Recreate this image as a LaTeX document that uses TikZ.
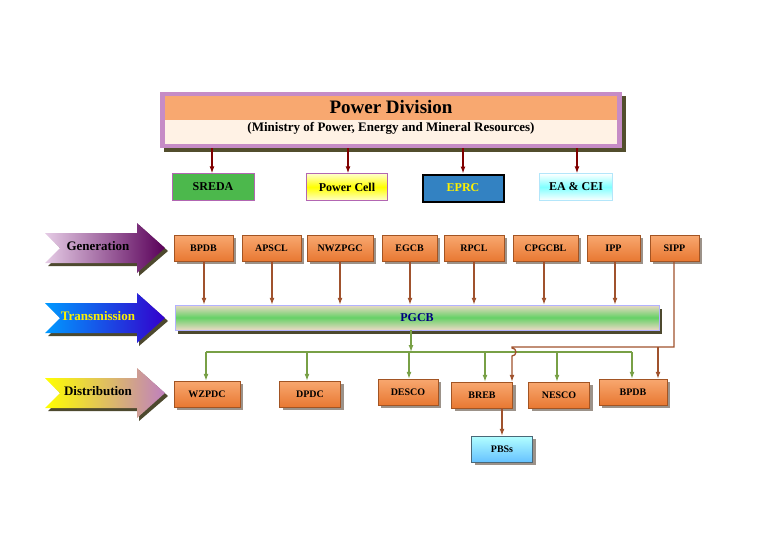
\documentclass[tikz,border=0pt]{standalone}
\usepackage{fontspec}
\setmainfont{Liberation Serif}
\usetikzlibrary{arrows.meta,shadows}
\definecolor{boxorange}{RGB}{232,120,50}
\definecolor{lightorange}{RGB}{248,168,112}
\definecolor{wire}{RGB}{160,82,45}
\definecolor{bus}{RGB}{120,160,70}
\begin{document}
\begin{tikzpicture}[x=1pt,y=-1pt,font=\bfseries]
    % Define Styles
        \tikzset{
          org/.style = {draw=boxorange!70!black, top color=lightorange, bottom color=boxorange, minimum height=26pt, inner sep=0pt, font=\bfseries\fontsize{10}{11}\selectfont, drop shadow={shadow xshift=3pt, shadow yshift=-3pt, fill=black!70!brown}},
          agency/.style = {minimum height=27pt, font=\bfseries\fontsize{12}{13}\selectfont},
          line/.style = {draw=wire, line width=1.3pt, -{Latex[length=7pt,width=5pt]}},
          gline/.style = {draw=bus, line width=1.3pt, -{Latex[length=7pt,width=5pt]}}
        }
        \useasboundingbox (0,0) rectangle (768,544);
    % Power Division
        \fill[black!55!olive] (164,96) rectangle (626,152);
        \fill[violet!45] (160,92) rectangle (622,148);
        \fill[lightorange] (165,96) rectangle (617,120);
        \fill[orange!10] (165,120) rectangle (617,144);
        \node (pd) at (391,120) [minimum width=462pt, minimum height=56pt] {};
        \node at (391,107) {\fontsize{19}{21}\selectfont Power Division};
        \node at (391,128) {\fontsize{13}{15}\selectfont (Ministry of Power, Energy and Mineral Resources)};
    % Agencies
        \node [agency, draw=violet!60, fill=green!60!black!70, minimum width=82pt] (sreda) at (213,187) {SREDA};
        \node [agency, draw=violet!60, top color=yellow!20, bottom color=yellow!20, middle color=yellow, minimum width=81pt] (cell) at (347,187) {Power Cell};
        \node [agency, draw=black, line width=2pt, fill=blue!45!cyan!70!black!80, text=yellow, minimum width=81pt] (eprc) at (463,188) {EPRC};
        \node [agency, draw=cyan!30, top color=white, bottom color=white, middle color=cyan!50, minimum width=73pt] (ea) at (576,187) {EA \& CEI};
        \foreach \x/\n in {212/sreda, 348/cell, 463/eprc, 577/ea}
          \draw[line, draw=red!50!black] (\x,148) -- (\n.north -| \x,0);
    % Stage arrows
        \foreach \y/\t/\ca/\cb/\tc in {248/Generation/violet!20/violet!70!black/black, 318/Transmission/cyan!60!blue/blue!60!violet/yellow, 393/Distribution/yellow/violet!50/black}{
          \fill[black!60!olive] (48,\y-13) -- (139,\y-13) -- (139,\y-23) -- (168,\y+3) -- (139,\y+28) -- (139,\y+18) -- (48,\y+18) -- (63,\y+3) -- cycle;
          \shade[left color=\ca, right color=\cb] (45,\y-15) -- (137,\y-15) -- (137,\y-25) -- (165,\y) -- (137,\y+25) -- (137,\y+15) -- (45,\y+15) -- (60,\y) -- cycle;
          \node[text=\tc, font=\bfseries\fontsize{13}{14}\selectfont] at (98,\y-2) {\t};
        }
    % Generation companies
        \foreach \a/\b/\n/\t in {174/233/g1/BPDB, 242/301/g2/APSCL, 307/373/g3/NWZPGC, 382/437/g4/EGCB, 444/504/g5/RPCL, 513/578/g6/CPGCBL, 587/640/g7/IPP, 650/699/g8/SIPP}{
          \pgfmathsetmacro\w{\b-\a}
          \node [org, minimum width=\w pt] (\n) at ({(\a+\b)/2},248) {\t};
        }
    % PGCB
        \fill[black!60!olive] (178,309) rectangle (662,334);
        \shade[top color=brown!30, bottom color=brown!30, middle color=green!70!black!60] (175,305) rectangle (659,330);
        \draw[blue!30] (175,305) rectangle (659,330);
        \node (pgcb) at (417,317.5) [minimum width=484pt, minimum height=25pt, text=blue!50!black, font=\bfseries\fontsize{12}{13}\selectfont] {PGCB};
        \foreach \x/\n in {204/g1, 272/g2, 340/g3, 410/g4, 474/g5, 544/g6, 615/g7}
          \draw[line] (\n.south -| \x,0) -- (pgcb.north -| \x,0);
    % Distribution companies
        \node [org, minimum width=66pt] (wzpdc) at (207,394) {WZPDC};
        \node [org, minimum width=61pt] (dpdc) at (310,394) {DPDC};
        \node [org, minimum width=60pt] (desco) at (408,392) {DESCO};
        \node [org, minimum width=61pt] (breb) at (482,395) {BREB};
        \node [org, minimum width=61pt] (nesco) at (559,395) {NESCO};
        \node [org, minimum width=68pt] (bpdb) at (633,392) {BPDB};
        \node [org, minimum width=61pt, draw=cyan!40!black, top color=cyan!30, bottom color=cyan!60!blue!60] (pbs) at (502,449) {PBSs};
    % Edges
        \coordinate (tap) at (411,352);
        \draw[gline] (pgcb.south -| tap) -- (tap);
        \draw[bus, line width=1.3pt] (206,352) -- (632,352);
        \foreach \x/\n in {206/wzpdc, 307/dpdc, 409/desco, 485/breb, 557/nesco, 632/bpdb}
          \draw[gline] (\x,352) -- (\n.north -| \x,0);
        \coordinate (turn) at (674,347);
        \draw[line] (g8.south -| turn) -- (turn) -- (512,347) -- (512,348)
          arc[start angle=90, end angle=-90, radius=4pt] -- (breb.north -| 512,0);
        \draw[line] (658,347) -- (bpdb.north -| 658,0);
        \draw[line] (breb.south -| 502,0) -- (pbs.north);
\end{tikzpicture}
\end{document}
